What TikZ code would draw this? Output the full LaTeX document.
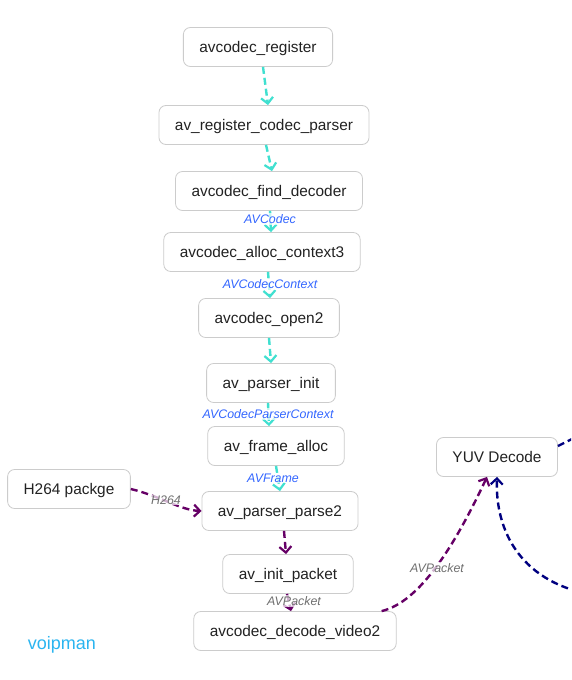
\documentclass[tikz,border=0pt]{standalone}
\usepackage{fontspec}
\setmainfont{Liberation Sans}
\usetikzlibrary{arrows.meta}
\definecolor{turq}{HTML}{40E0D0}
\definecolor{purp}{HTML}{660066}
\definecolor{navyc}{HTML}{000080}
\definecolor{lblblue}{HTML}{3366FF}
\definecolor{lblgray}{HTML}{707070}
\definecolor{boxline}{HTML}{CCCCCC}
\definecolor{txt}{HTML}{222222}
\definecolor{sign}{HTML}{2BB5F0}
\tikzset{
  fn/.style={draw=boxline, line width=0.8pt, rounded corners=7pt, fill=white,
    minimum height=39pt, inner xsep=16pt, text height=12pt, text depth=0.4pt,
    text=txt, font=\fontsize{15.4}{18}\selectfont},
  tip/.style={-{Straight Barb[length=6pt,width=12pt,line width=2.2pt]}},
  cyanedge/.style={tip, draw=turq, line width=2.4pt, dash pattern=on 7pt off 4pt},
  purpedge/.style={tip, draw=purp, line width=2.4pt, dash pattern=on 7pt off 4pt},
  navyedge/.style={tip, draw=navyc, line width=2.4pt, dash pattern=on 7pt off 4pt},
  bluelbl/.style={font=\fontsize{12.4}{14}\selectfont\itshape, text=lblblue, inner sep=1pt,
    fill=white, fill opacity=0.7, text opacity=1},
  graylbl/.style={font=\fontsize{12.4}{14}\selectfont\itshape, text=lblgray, inner sep=1pt,
    fill=white, fill opacity=0.7, text opacity=1},
}
\begin{document}
\begin{tikzpicture}[x=1pt,y=-1pt]
\clip (0,0) rectangle (571,680);
\fill[white] (0,0) rectangle (571,680);

\node[fn] (reg) at (258,47) {avcodec\_register};
\node[fn] (regp) at (264,125) {av\_register\_codec\_parser};
\node[fn] (find) at (269,191) {avcodec\_find\_decoder};
\node[fn] (alloc) at (262,252) {avcodec\_alloc\_context3};
\node[fn] (open) at (269,318) {avcodec\_open2};
\node[fn] (pinit) at (271,383) {av\_parser\_init};
\node[fn] (falloc) at (276,446) {av\_frame\_alloc};
\node[fn] (parse) at (280,511) {av\_parser\_parse2};
\node[fn] (ipkt) at (288,574) {av\_init\_packet};
\node[fn] (dec) at (295,631) {avcodec\_decode\_video2};
\node[fn] (h264) at (69,489) {H264 packge};
\node[fn] (yuv) at (497,457) {YUV Decode};
\node[font=\fontsize{18}{20}\selectfont, text=sign] (sig) at (62,645) {voipman};

\coordinate (navyin) at (600,596);
\coordinate (navyout) at (600,425);

\draw[cyanedge] ([xshift=5pt]reg.south) -- ([xshift=4pt]regp.north);
\draw[cyanedge] ([xshift=2pt]regp.south) -- ([xshift=3pt]find.north);
\draw[cyanedge] ([xshift=1pt]find.south) -- ([xshift=9pt]alloc.north);
\draw[cyanedge] ([xshift=6pt]alloc.south) -- ([xshift=1pt]open.north);
\draw[cyanedge] (open.south) -- (pinit.north);
\draw[cyanedge] ([xshift=-3pt]pinit.south) -- ([xshift=-7pt]falloc.north);
\draw[cyanedge] (falloc.south) -- (parse.north);
\draw[purpedge] ([xshift=4pt]parse.south) -- ([xshift=-2pt]ipkt.north);
\draw[purpedge] ([xshift=-1pt]ipkt.south) -- ([xshift=-4pt]dec.north);
\draw[purpedge] (h264.east) .. controls (160,496) and (180,510) .. (parse.west);
\draw[purpedge] ([xshift=-15pt]dec.north east) .. controls (420,602) and (455,545) .. ([xshift=-10pt]yuv.south);
\draw[navyedge] (navyin) .. controls (520,585) and (495,530) .. (yuv.south);
\draw[navyc, line width=2.4pt, dash pattern=on 7pt off 4pt] ([yshift=11pt]yuv.east) .. controls (566,442) .. (navyout);

\node[bluelbl] (l1) at (270,219) {AVCodec};
\node[bluelbl] (l2) at (270,284) {AVCodecContext};
\node[bluelbl] (l3) at (268,414) {AVCodecParserContext};
\node[bluelbl] (l4) at (273,478) {AVFrame};
\node[graylbl] (l5) at (166,500) {H264};
\node[graylbl] (l6) at (294,601) {AVPacket};
\node[graylbl] (l7) at (437,568) {AVPacket};
\end{tikzpicture}
\end{document}
